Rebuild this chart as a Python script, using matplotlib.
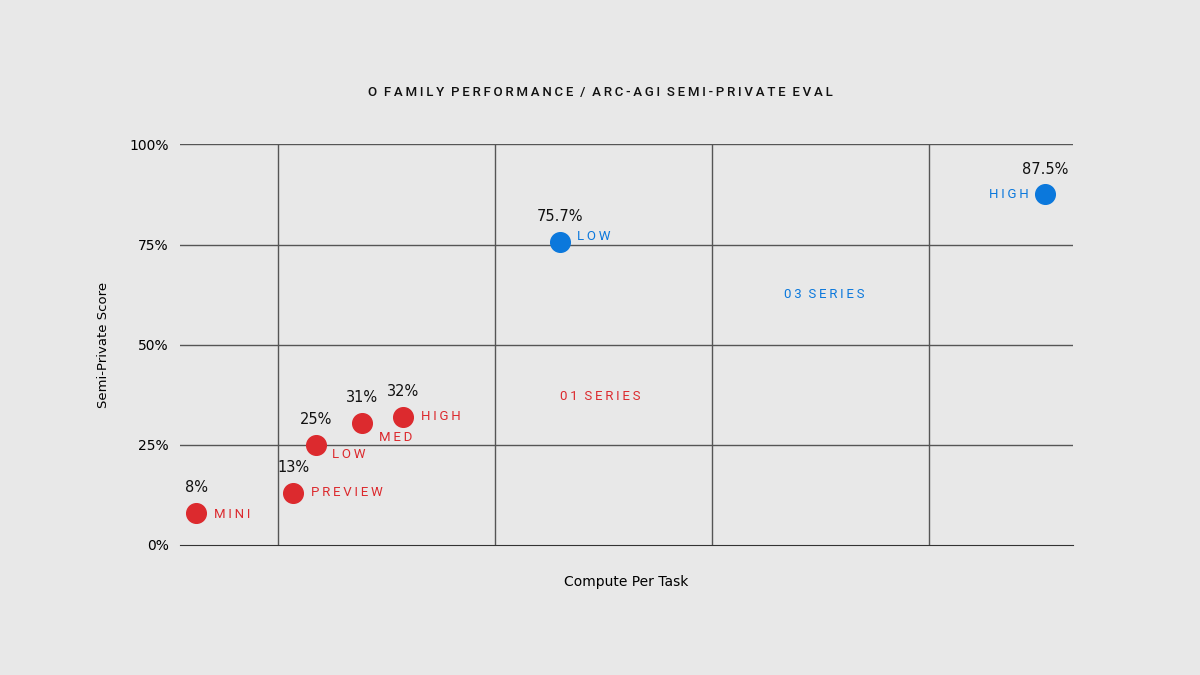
import matplotlib
matplotlib.use("Agg")
import matplotlib.pyplot as plt

o1_labels = ["MINI", "PREVIEW", "LOW", "MED", "HIGH"]
o1_x = [1.8, 12.7, 15.2, 20.4, 25.0]
o1_y = [8, 13, 25, 30.5, 32]
o1_val = ["8%", "13%", "25%", "31%", "32%"]
o3_labels = ["LOW", "HIGH"]
o3_x = [42.6, 96.9]
o3_y = [75.7, 87.5]
o3_val = ["75.7%", "87.5%"]
xgrid = [11.0, 35.3, 59.6, 83.9]
yticks = [0, 25, 50, 75, 100]

RED = "#dc2a2e"
BLUE = "#0b78dc"
BG = "#e8e8e8"

def sp(s):
    return "\u2009".join(s).replace("\u2009 \u2009", "\u2002")

fig = plt.figure(figsize=(12, 6.75), dpi=100, facecolor=BG)
ax = fig.add_axes([0.15, 0.193, 0.744, 0.593], facecolor=BG)
ax.set_xlim(0, 100)
ax.set_ylim(0, 100)
for s in ["top", "right", "left"]:
    ax.spines[s].set_visible(False)
ax.spines["bottom"].set_color("#333333")
ax.set_yticks(yticks)
ax.set_yticklabels([f"{t}%" for t in yticks], fontsize=10)
ax.tick_params(axis="y", length=0, pad=8)
ax.set_xticks([])
for t in yticks[1:]:
    ax.axhline(t, color="#555555", lw=1, zorder=1)
for x in xgrid:
    ax.axvline(x, color="#555555", lw=1, zorder=1)

ax.scatter(o1_x, o1_y, s=200, color=RED, zorder=3)
ax.scatter(o3_x, o3_y, s=200, color=BLUE, zorder=3)

for x, y, v in zip(o1_x + o3_x, o1_y + o3_y, o1_val + o3_val):
    ax.annotate(v, (x, y), xytext=(0, 15), textcoords="offset points", ha="center", fontsize=10.5, color="#111")

offs_o1 = [(13, -1), (13, 0), (12, -7), (12, -11), (13, 0)]
for x, y, n, o in zip(o1_x, o1_y, o1_labels, offs_o1):
    ax.annotate(sp(n), (x, y), xytext=o, textcoords="offset points", ha="left", va="center",
                fontsize=9.5, color=RED, fontfamily="Roboto")
ax.annotate(sp("LOW"), (o3_x[0], o3_y[0]), xytext=(12, 4), textcoords="offset points",
            ha="left", va="center", fontsize=9.5, color=BLUE, fontfamily="Roboto")
ax.annotate(sp("HIGH"), (o3_x[1], o3_y[1]), xytext=(-12, 0), textcoords="offset points",
            ha="right", va="center", fontsize=9.5, color=BLUE, fontfamily="Roboto")

ax.text(47.1, 37, sp("01 SERIES"), color=RED, fontsize=9.5, ha="center", va="center", fontfamily="Roboto")
ax.text(72.2, 62.5, sp("03 SERIES"), color=BLUE, fontsize=9.5, ha="center", va="center", fontfamily="Roboto")

ax.set_ylabel("Semi-Private Score", fontsize=9.5, labelpad=14)
ax.set_xlabel("Compute Per Task", fontsize=10, labelpad=22, fontweight="medium")
fig.text(0.5, 0.858, sp("O FAMILY PERFORMANCE / ARC-AGI SEMI-PRIVATE EVAL"),
         ha="center", fontsize=9.5, fontweight="medium", fontfamily="Roboto", color="#111")
fig.savefig("out.png", dpi=100, facecolor=BG)
